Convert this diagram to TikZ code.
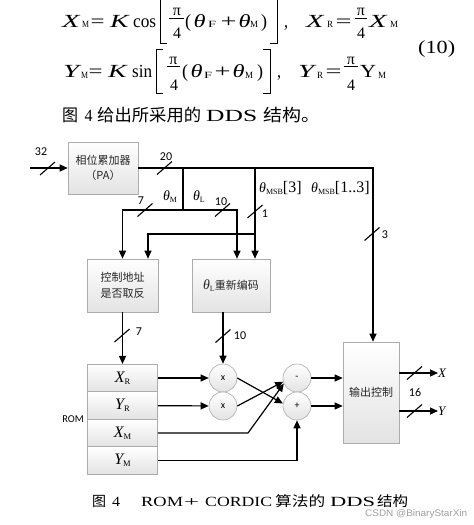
\documentclass[tikz,border=0pt]{standalone}
\usepackage{fontspec}
\usepackage{graphicx}
\setmainfont{Liberation Serif}
\newfontfamily\cjkf{Noto Sans CJK SC}
\newfontfamily\numf{Carlito}
\newfontfamily\wmf{Liberation Sans}
\usetikzlibrary{arrows.meta}
\newcommand\eqf{\fontsize{18.5}{20}\selectfont}
\newcommand\subf{\fontsize{9.5}{10}\selectfont}
\newcommand\frf{\fontsize{16}{16}\selectfont}
\newcommand\txf{\fontsize{17}{17}\selectfont}
\newcommand\capf{\fontsize{14}{14}\selectfont}
\newcommand\pc[4]{\node[anchor=base west,inner sep=0pt] at (#1,#2) {\resizebox{#3pt}{\height}{#4}};}
\newcommand\romlab[2]{{\rmfamily\fontsize{16}{16}\selectfont\itshape #1}\raisebox{-2pt}{\rmfamily\fontsize{8.5}{9}\selectfont #2}}
\newcommand\thlab[1]{{\rmfamily\fontsize{14}{14}\selectfont\itshape θ}\raisebox{-2pt}{\rmfamily\fontsize{8}{8}\selectfont #1}}
\begin{document}
\begin{tikzpicture}[x=1pt,y=-1pt]
\tikzset{
 ln/.style={line width=1.2pt, draw=black},
 arr/.style={ln, -{Triangle[length=8pt,width=7pt]}},
 blk/.style={draw=gray!65, line width=0.6pt, top color=white, bottom color=gray!22, inner sep=0pt, align=center, text=black!85, font=\cjkf\fontsize{11}{15}\selectfont},
 circ/.style={circle, draw=gray!65, line width=0.6pt, top color=white, bottom color=gray!22, minimum size=28pt, inner sep=0pt, font=\numf\fontsize{10}{10}\selectfont},
 num/.style={font=\numf\fontsize{12}{12}\selectfont, inner sep=0pt},
 br/.style={line width=0.9pt},
 slashmark/.pic={\draw[line width=1.1pt] (-7.5,6.5) -- (7.5,-6.5);}
}
\fill[white] (0,0) rectangle (474,525);
\useasboundingbox (0,0) rectangle (474,525);

% ---------- equation line 1 ----------
\pc{62}{27}{17.5}{\eqf\itshape X}
\pc{82}{27.5}{7}{\subf M}
\pc{90.5}{27}{14}{\eqf =}
\pc{110}{27}{18.5}{\eqf\itshape K}
\pc{133}{27}{23}{\eqf cos}
\draw[br] (167,-1) -- (160,-1) -- (160,43) -- (167,43);
\node[anchor=base,inner sep=0pt] at (177,15.5) {\frf π};
\draw[line width=0.7pt] (169,18.5) -- (184,18.5);
\node[anchor=base,inner sep=0pt] at (177,38) {\frf 4};
\pc{185}{27}{6}{\eqf (}
\pc{193.5}{27}{12}{\eqf\itshape θ}
\pc{208}{27.5}{8}{\subf F}
\pc{220.5}{27}{16}{\eqf +}
\pc{238.5}{27}{12}{\eqf\itshape θ}
\pc{250}{27.5}{8}{\subf M}
\pc{261}{27}{6}{\eqf )}
\draw[br] (270,-1) -- (277,-1) -- (277,43) -- (270,43);
\pc{284}{27}{4}{\eqf ,}
\pc{306}{27}{17.5}{\eqf\itshape X}
\pc{327}{27.5}{6}{\subf R}
\pc{335.5}{27}{16}{\eqf =}
\node[anchor=base,inner sep=0pt] at (361,15.5) {\frf π};
\draw[line width=0.7pt] (355,18.5) -- (367,18.5);
\node[anchor=base,inner sep=0pt] at (361,38) {\frf 4};
\pc{369}{27}{17.5}{\eqf\itshape X}
\pc{390}{27.5}{8}{\subf M}
% ---------- (10) ----------
\pc{418}{53}{37}{\eqf (10)}
% ---------- equation line 2 ----------
\pc{63}{77.5}{16}{\eqf\itshape Y}
\pc{81}{78}{7}{\subf M}
\pc{88.5}{77.5}{14}{\eqf =}
\pc{108}{77.5}{18.5}{\eqf\itshape K}
\pc{132}{77.5}{20}{\eqf sin}
\draw[br] (163,49) -- (156,49) -- (156,93) -- (163,93);
\node[anchor=base,inner sep=0pt] at (173.5,64) {\frf π};
\draw[line width=0.7pt] (167,66.5) -- (180,66.5);
\node[anchor=base,inner sep=0pt] at (174,90) {\frf 4};
\pc{182}{77.5}{6}{\eqf (}
\pc{190.5}{77.5}{12}{\eqf\itshape θ}
\pc{204}{78}{8}{\subf F}
\pc{214.5}{77.5}{16}{\eqf +}
\pc{232.5}{77.5}{12}{\eqf\itshape θ}
\pc{245}{78}{8}{\subf M}
\pc{257}{77.5}{6}{\eqf )}
\draw[br] (263,49) -- (270,49) -- (270,93) -- (263,93);
\pc{277}{77.5}{4}{\eqf ,}
\pc{298}{77.5}{16}{\eqf\itshape Y}
\pc{317}{78}{6}{\subf R}
\pc{325.5}{77.5}{16}{\eqf =}
\node[anchor=base,inner sep=0pt] at (351,64) {\frf π};
\draw[line width=0.7pt] (344,66.5) -- (358,66.5);
\node[anchor=base,inner sep=0pt] at (351,90) {\frf 4};
\pc{360}{77.5}{16}{\eqf Y}
\pc{378}{78}{8}{\subf M}
% ---------- text line ----------
\pc{62}{121}{16}{\cjkf\txf 图}
\pc{84.5}{121}{8}{\txf 4}
\pc{97}{121}{104}{\cjkf\txf 给出所采用的}
\pc{206}{121}{51}{\txf DDS}
\pc{263}{121}{57}{\cjkf\txf 结构。}

% ---------- diagram ----------
\node[blk, minimum width=70pt, minimum height=52pt] (pa) at (103,168) {相位累加器\\（PA）};
\node[blk, minimum width=71pt, minimum height=53pt, font=\cjkf\fontsize{11}{16}\selectfont] (ctrl) at (122.5,285.5) {控制地址\\是否取反};
\node[blk, minimum width=78pt, minimum height=53pt] (rec) at (231,285.5) {\thlab{L}重新编码};
\node[blk, minimum width=70pt, minimum height=27.5pt, text=black] (xr) at (122.5,378) {\romlab{X}{R}};
\node[blk, minimum width=70pt, minimum height=27.5pt, text=black] (yr) at (122.5,405.5) {\romlab{Y}{R}};
\node[blk, minimum width=70pt, minimum height=27.5pt, text=black] (xm) at (122.5,433) {\romlab{X}{M}};
\node[blk, minimum width=70pt, minimum height=27.5pt, text=black] (ym) at (122.5,460.5) {\romlab{Y}{M}};
\node[num, font=\numf\fontsize{10.5}{10.5}\selectfont, anchor=east] (rom) at (84,419) {ROM};
\node[circ] (m1) at (223,378) {x};
\node[circ] (m2) at (223,406) {x};
\node[circ] (sub) at (297,378) {-};
\node[circ] (add) at (297,406) {+};
\node[blk, minimum width=56pt, minimum height=101pt] (out) at (371,392.5) {输出控制};

% input
\coordinate (in) at (30,168);
\draw[arr] (in) -- (pa);
\pic at (47.5,168.5) {slashmark};
\node[num] at (41,152) {32};
% bus
\draw[arr] (pa.east) -| ([xshift=2pt]out.north);
\pic at (164.5,168) {slashmark};
\node[num] at (166,157) {20};
\pic at (372,234) {slashmark};
\node[num] at (385,235) {3};
% theta M / theta L
\coordinate (b1) at (183,168);
\coordinate (j1) at (183,210);
\draw[arr] (b1) -- (j1) -| (ctrl.north);
\draw[arr] (j1) -| ([xshift=6pt]rec.north);
\pic at (145,210) {slashmark};
\node[num] at (141,201) {7};
\pic at (222.5,210) {slashmark};
\node[num] at (221,202) {10};
\node[inner sep=0pt] at (170,197) {\thlab{M}};
\node[inner sep=0pt] at (199,197) {\thlab{L}};
% theta MSB[3]
\coordinate (b2) at (255,168);
\coordinate (j2) at (255,234);
\draw[arr] (b2) -- ([xshift=24pt]rec.north);
\draw[arr] (j2) -| ([xshift=25.5pt]ctrl.north);
\pic at (255,211.5) {slashmark};
\node[num] at (265,214) {1};
\node[inner sep=0pt, anchor=west] at (259,188) {\thlab{MSB}{\fontsize{16}{16}\selectfont [3]}};
\node[inner sep=0pt, anchor=west] at (311,188) {\thlab{MSB}{\fontsize{16}{16}\selectfont [1..3]}};
% down to ROM / multipliers
\draw[arr] (ctrl.south) -- (xr.north);
\pic at (122,335.5) {slashmark};
\node[num] at (139,332) {7};
\draw[arr] (rec.south -| m1.north) -- (m1.north);
\pic at (223,336) {slashmark};
\node[num] at (240,336) {10};
% ROM to multipliers
\draw[arr] (xr) -- (m1);
\draw[arr] (yr) -- (m2);
\draw[arr] (m1.east) -- (add.170);
\draw[arr] (m2.east) -- (sub.195);
\coordinate (xmk) at (248,433);
\draw[arr] (xm.east) -- (xmk) -- (sub.203);
\draw[arr] (ym.east) -| (add.south);
\draw[arr] (sub) -- (sub -| out.west);
\draw[arr] (add) -- (add -| out.west);
% outputs
\node[inner sep=0pt, anchor=west, font=\fontsize{13}{13}\selectfont\itshape] (lx) at (438,373) {X};
\node[inner sep=0pt, anchor=west, font=\fontsize{13}{13}\selectfont\itshape] (ly) at (438,411) {Y};
\draw[arr] (out.east |- lx) -- (lx.west);
\draw[arr] (out.east |- ly) -- (ly.west);
\pic at (414.5,373) {slashmark};
\pic at (414.5,411) {slashmark};
\node[num] at (415,392) {16};

% ---------- caption ----------
\pc{92}{506}{14}{\cjkf\capf 图}
\pc{112}{506}{8}{\capf 4}
\pc{141}{506}{42}{\capf ROM}
\pc{184}{506}{15}{\capf +}
\pc{205}{506}{67}{\capf CORDIC}
\pc{275}{506}{50}{\cjkf\capf 算法的}
\pc{330}{506}{45}{\capf DDS}
\pc{377}{506}{31}{\cjkf\capf 结构}
\node[anchor=base west, inner sep=0pt, text=gray!75] at (365,516.5) {\resizebox{102pt}{\height}{\wmf\fontsize{9.5}{10}\selectfont CSDN @BinaryStarXin}};
\end{tikzpicture}
\end{document}
